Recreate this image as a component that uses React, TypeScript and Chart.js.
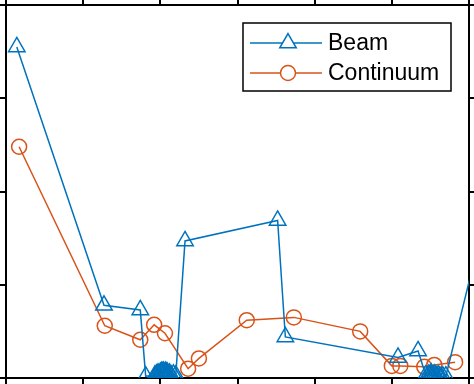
import React, { useEffect, useRef } from "react";
import { Chart, registerables } from "chart.js";

Chart.register(...registerables);

const seriesNames = ["Beam", "Continuum"];

const beamX = [0.14, 1.27, 1.74, 1.81, 1.93, 1.95, 1.97, 1.98, 2.0, 2.01, 2.02, 2.03, 2.04, 2.05, 2.06, 2.07, 2.08, 2.09, 2.1, 2.12, 2.14, 2.17, 2.2, 2.32, 3.52, 3.62, 5.08, 5.34, 5.44, 5.46, 5.48, 5.5, 5.51, 5.52, 5.54, 5.55, 5.57, 5.58, 5.6, 5.62, 5.64, 5.66, 5.7, 6.21];
const beamY = [3.55, 0.78, 0.73, 0.02, 0.03, 0.04, 0.05, 0.04, 0.06, 0.05, 0.07, 0.06, 0.07, 0.05, 0.06, 0.07, 0.05, 0.06, 0.04, 0.05, 0.03, 0.04, 0.03, 1.47, 1.69, 0.44, 0.22, 0.29, 0.03, 0.02, 0.04, 0.03, 0.05, 0.03, 0.02, 0.04, 0.03, 0.01, 0.03, 0.02, 0.01, 0.02, 0.02, 1.74];

const contX = [0.17, 1.28, 1.74, 1.92, 2.06, 2.36, 2.5, 3.12, 3.73, 4.59, 5.0, 5.11, 5.42, 5.55, 5.82];
const contY = [2.48, 0.56, 0.41, 0.57, 0.48, 0.1, 0.21, 0.62, 0.65, 0.5, 0.13, 0.13, 0.12, 0.14, 0.17];

const xTicks = [0, 1, 2, 3, 4, 5, 6];
const yTicks = [0, 1, 2, 3, 4];

const BLUE = "#0072BD";
const ORANGE = "#D95319";

const legendPlugin = {
  id: "matlabLegend",
  afterDatasetsDraw(chart: any) {
    const { ctx, chartArea } = chart;
    const w = 208;
    const h = 68;
    const x0 = chartArea.right - 18 - w;
    const y0 = chartArea.top + 18;
    ctx.save();
    ctx.fillStyle = "#fff";
    ctx.fillRect(x0, y0, w, h);
    ctx.strokeStyle = "#000";
    ctx.lineWidth = 1.5;
    ctx.strokeRect(x0, y0, w, h);
    chart.data.datasets.forEach((ds: any, i: number) => {
      const y = y0 + 20 + i * 30;
      ctx.strokeStyle = ds.borderColor;
      ctx.lineWidth = ds.borderWidth;
      ctx.beginPath();
      ctx.moveTo(x0 + 7, y);
      ctx.lineTo(x0 + 79, y);
      ctx.stroke();
      const cx = x0 + 45;
      const r = ds.pointRadius;
      ctx.lineWidth = ds.pointBorderWidth;
      ctx.beginPath();
      if (ds.pointStyle === "triangle") {
        for (let k = 0; k < 3; k++) {
          const a = (k * 2 * Math.PI) / 3;
          const px = cx + Math.sin(a) * r;
          const py = y - Math.cos(a) * r;
          if (k === 0) ctx.moveTo(px, py);
          else ctx.lineTo(px, py);
        }
        ctx.closePath();
      } else {
        ctx.arc(cx, y, r, 0, Math.PI * 2);
      }
      ctx.fillStyle = "#fff";
      ctx.fill();
      ctx.stroke();
      ctx.fillStyle = "#000";
      ctx.font = "23px 'Liberation Sans', Arial, sans-serif";
      ctx.textBaseline = "middle";
      ctx.textAlign = "left";
      ctx.fillText(ds.label, x0 + 85, y + 1);
    });
    ctx.restore();
  },
};

function axis(position: string, min: number, max: number, tickLength: number) {
  return {
    type: "linear",
    position,
    min,
    max,
    display: true,
    afterBuildTicks: (scale: any) => {
      const vals = position === "left" || position === "right" ? yTicks : xTicks;
      scale.ticks = vals.map((v) => ({ value: v }));
    },
    ticks: { display: false, padding: 0 },
    grid: {
      display: true,
      drawOnChartArea: false,
      drawTicks: true,
      tickLength,
      color: "#000",
      lineWidth: 2,
    },
    border: { display: true, color: "#000", width: 2 },
  };
}

export default function App() {
  const ref = useRef<HTMLCanvasElement | null>(null);
  useEffect(() => {
    if (!ref.current) return;
    const chart = new Chart(ref.current, {
      type: "line",
      data: {
        datasets: [
          {
            label: seriesNames[0],
            data: beamX.map((x, i) => ({ x, y: beamY[i] })),
            borderColor: BLUE,
            backgroundColor: "rgba(0,0,0,0)",
            borderWidth: 1.5,
            pointStyle: "triangle",
            pointRadius: 9.5,
            pointBorderWidth: 1.5,
            pointBorderColor: BLUE,
            pointBackgroundColor: "rgba(0,0,0,0)",
            tension: 0,
            xAxisID: "x",
            yAxisID: "y",
          },
          {
            label: seriesNames[1],
            data: contX.map((x, i) => ({ x, y: contY[i] })),
            borderColor: ORANGE,
            backgroundColor: "rgba(0,0,0,0)",
            borderWidth: 1.5,
            pointStyle: "circle",
            pointRadius: 7.5,
            pointBorderWidth: 1.5,
            pointBorderColor: ORANGE,
            pointBackgroundColor: "rgba(0,0,0,0)",
            tension: 0,
            xAxisID: "x",
            yAxisID: "y",
          },
        ],
      },
      options: {
        animation: false,
        responsive: false,
        maintainAspectRatio: false,
        layout: { padding: 0, autoPadding: false },
        plugins: {
          legend: { display: false },
          tooltip: { enabled: false },
        },
        scales: {
          x: axis("bottom", 0, 6, 6),
          x2: axis("top", 0, 6, 5),
          y: axis("left", 0, 4, 6),
          y2: axis("right", 0, 4, 5),
        } as any,
      },
      plugins: [legendPlugin],
    } as any);
    return () => chart.destroy();
  }, []);
  return (
    <div style={{ position: "fixed", left: 0, top: 0, width: 474, height: 384, background: "#fff" }}>
      <canvas ref={ref} width={474} height={384} style={{ display: "block" }} />
    </div>
  );
}
